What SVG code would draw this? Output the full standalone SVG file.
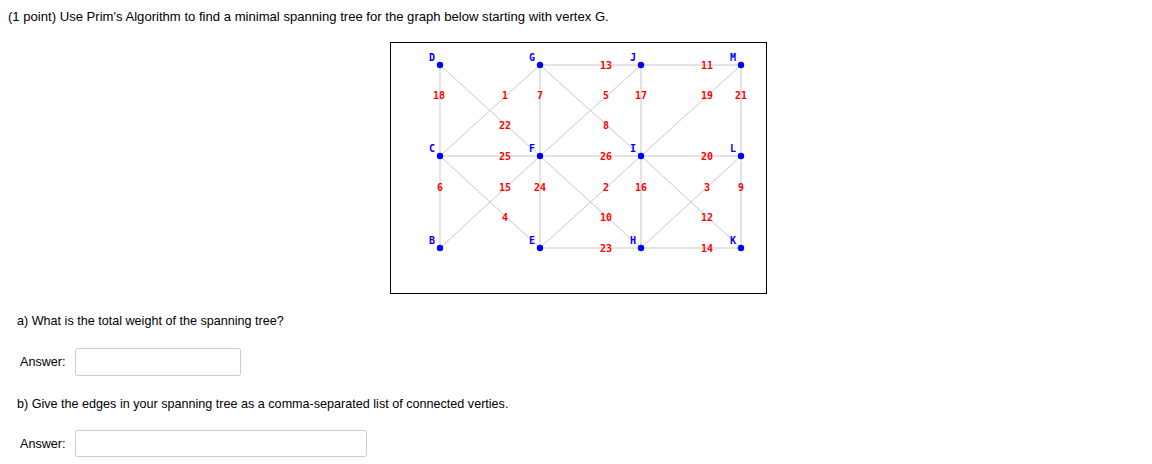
<svg xmlns="http://www.w3.org/2000/svg" width="1152" height="464" viewBox="0 0 1152 464">
<style>
.t{font-family:"Liberation Sans",Arial,sans-serif;font-size:12.6px;fill:#000}
.e line{stroke:#c8c8c8;stroke-width:1}
.w{font-family:"DejaVu Sans Mono","Liberation Mono",monospace;font-size:10px;font-weight:bold;fill:#ff0000;text-anchor:middle}
.v{font-family:"DejaVu Sans Mono","Liberation Mono",monospace;font-size:10px;font-weight:bold;fill:#0000ff}
.n circle{fill:#0000ff}
.box{fill:#fff;stroke:#ccc;stroke-width:1}
</style>
<rect width="1152" height="464" fill="#fff"/>
<text class="t" x="8" y="21" style="font-size:13.1px">(1 point) Use Prim's Algorithm to find a minimal spanning tree for the graph below starting with vertex G.</text>
<rect x="390.5" y="42.5" width="376" height="251" fill="#fff" stroke="#000"/>
<g class="e" id="connectors">
<line x1="440" y1="65" x2="440" y2="156"/><line x1="440" y1="65" x2="540" y2="156"/>
<line x1="540" y1="65" x2="440" y2="156"/><line x1="540" y1="65" x2="540" y2="156"/>
<line x1="540" y1="65" x2="641" y2="65"/><line x1="540" y1="65" x2="641" y2="156"/>
<line x1="540" y1="156" x2="641" y2="65"/><line x1="440" y1="156" x2="540" y2="156"/>
<line x1="440" y1="156" x2="440" y2="248"/><line x1="440" y1="156" x2="540" y2="248"/>
<line x1="540" y1="156" x2="440" y2="248"/><line x1="540" y1="156" x2="540" y2="248"/>
<line x1="540" y1="156" x2="641" y2="156"/><line x1="540" y1="156" x2="641" y2="248"/>
<line x1="540" y1="248" x2="641" y2="156"/><line x1="540" y1="248" x2="641" y2="248"/>
<line x1="641" y1="65" x2="641" y2="156"/><line x1="641" y1="65" x2="741" y2="65"/>
<line x1="741" y1="65" x2="641" y2="156"/><line x1="741" y1="65" x2="741" y2="156"/>
<line x1="641" y1="156" x2="741" y2="156"/><line x1="641" y1="156" x2="641" y2="248"/>
<line x1="641" y1="156" x2="741" y2="248"/><line x1="741" y1="156" x2="641" y2="248"/>
<line x1="741" y1="156" x2="741" y2="248"/><line x1="641" y1="248" x2="741" y2="248"/>
</g>
<g id="weights">
<text class="w" x="439" y="99">18</text><text class="w" x="505" y="99">1</text><text class="w" x="540" y="99">7</text>
<text class="w" x="505" y="129">22</text><text class="w" x="505" y="160">25</text>
<text class="w" x="440" y="191">6</text><text class="w" x="505" y="191">15</text><text class="w" x="540" y="191">24</text>
<text class="w" x="505" y="221">4</text>
<text class="w" x="606" y="69">13</text><text class="w" x="606" y="99">5</text><text class="w" x="641" y="99">17</text>
<text class="w" x="707" y="69">11</text><text class="w" x="707" y="99">19</text><text class="w" x="741" y="99">21</text>
<text class="w" x="606" y="129">8</text><text class="w" x="606" y="160">26</text><text class="w" x="707" y="160">20</text>
<text class="w" x="606" y="191">2</text><text class="w" x="641" y="191">16</text><text class="w" x="707" y="191">3</text><text class="w" x="741" y="191">9</text>
<text class="w" x="606" y="221">10</text><text class="w" x="707" y="221">12</text>
<text class="w" x="606" y="252">23</text><text class="w" x="707" y="252">14</text>
</g>
<g class="n">
<g id="D"><circle cx="440" cy="65" r="3.2"/><text class="v" x="429" y="61">D</text></g>
<g id="G"><circle cx="540" cy="65" r="3.2"/><text class="v" x="529" y="61">G</text></g>
<g id="J"><circle cx="641" cy="65" r="3.2"/><text class="v" x="630" y="61">J</text></g>
<g id="M"><circle cx="741" cy="65" r="3.2"/><text class="v" x="730" y="61">M</text></g>
<g id="C"><circle cx="440" cy="156" r="3.2"/><text class="v" x="429" y="152">C</text></g>
<g id="F"><circle cx="540" cy="156" r="3.2"/><text class="v" x="529" y="152">F</text></g>
<g id="I"><circle cx="641" cy="156" r="3.2"/><text class="v" x="630" y="152">I</text></g>
<g id="L"><circle cx="741" cy="156" r="3.2"/><text class="v" x="730" y="152">L</text></g>
<g id="B"><circle cx="440" cy="248" r="3.2"/><text class="v" x="429" y="244">B</text></g>
<g id="E"><circle cx="540" cy="248" r="3.2"/><text class="v" x="529" y="244">E</text></g>
<g id="H"><circle cx="641" cy="248" r="3.2"/><text class="v" x="630" y="244">H</text></g>
<g id="K"><circle cx="741" cy="248" r="3.2"/><text class="v" x="730" y="244">K</text></g>
</g>
<text class="t" x="17" y="325">a) What is the total weight of the spanning tree?</text>
<text class="t" x="20" y="366">Answer:</text>
<rect class="box" x="75.5" y="348.5" width="165" height="27" rx="2"/>
<text class="t" x="17" y="408">b) Give the edges in your spanning tree as a comma-separated list of connected verties.</text>
<text class="t" x="20" y="448">Answer:</text>
<rect class="box" x="75.5" y="430.5" width="291" height="26" rx="2"/>
</svg>
